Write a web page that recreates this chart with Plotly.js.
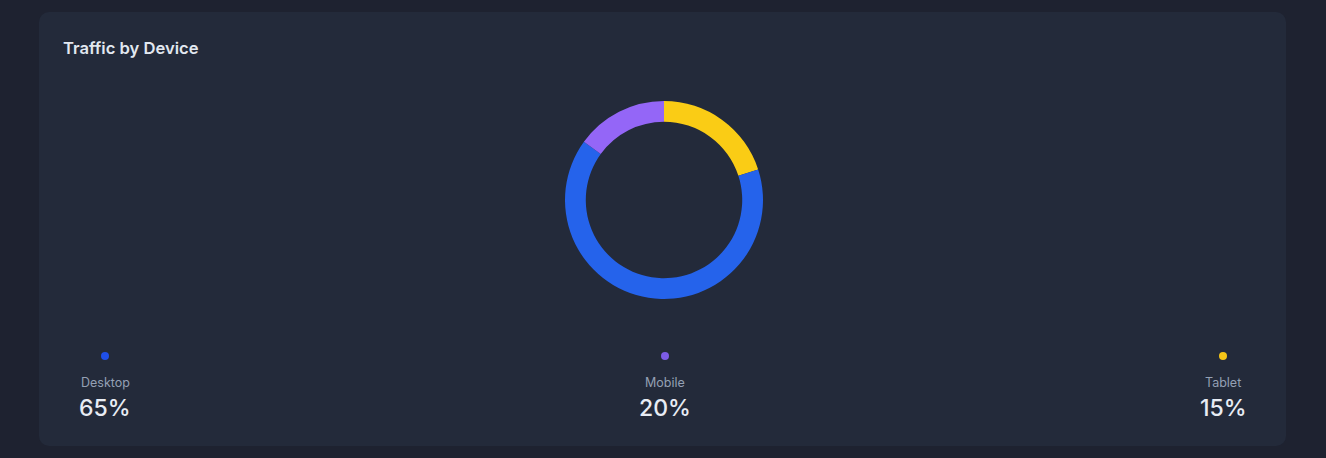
<!DOCTYPE html>
<html>
<head>
<meta charset="utf-8">
<script src="https://cdn.plot.ly/plotly-3.0.1.min.js"></script>
<style>
  html, body { margin: 0; padding: 0; background: #1e2230; }
  #card {
    position: absolute; left: 39px; top: 12px; width: 1247px; height: 434px;
    background: #232a3a; border-radius: 10px; overflow: hidden;
  }
  #donut { width: 1247px; height: 434px; }
</style>
</head>
<body>
<div id="card"><div id="donut"></div></div>
<script>
// legend entries, as labelled under the chart
var devices = ['Desktop', 'Mobile', 'Tablet'];
var shares = [65, 20, 15];
var dotColors = ['#1f4fe8', '#7d5ce6', '#f5c518'];

// ring as drawn, clockwise from 12 o'clock
var ringShares = [20, 65, 15];
var ringColors = ['#facc15', '#2563eb', '#9466f7'];

var legendX = [66, 626, 1184];   // column centres inside the card

var W = 1247, H = 434;
var cx = 625, cy = 188, r = 99;

var ring = {
  type: 'pie',
  values: ringShares,
  labels: ['a', 'b', 'c'],
  marker: { colors: ringColors, line: { width: 0 } },
  hole: 0.79,
  sort: false,
  direction: 'clockwise',
  rotation: 0,
  textinfo: 'none',
  hoverinfo: 'none',
  showlegend: false,
  domain: {
    x: [(cx - r) / W, (cx + r) / W],
    y: [1 - (cy + r) / H, 1 - (cy - r) / H]
  }
};

var dots = {
  type: 'scatter',
  mode: 'markers',
  x: legendX,
  y: legendX.map(function () { return 344; }),
  marker: { size: 8, color: dotColors },
  hoverinfo: 'none',
  showlegend: false
};

var notes = [];
devices.forEach(function (d, i) {
  notes.push({
    x: legendX[i], y: 370, xref: 'x', yref: 'y', text: d, showarrow: false,
    font: { family: 'Inter', size: 12.5, color: '#94a0b4' }
  });
  notes.push({
    x: legendX[i], y: 396, xref: 'x', yref: 'y', text: shares[i] + '%', showarrow: false,
    font: { family: 'Inter', size: 23, weight: 500, color: '#e8ecf4' }
  });
});
notes.push({
  x: 22, y: 36, xref: 'x', yref: 'y', xanchor: 'left', text: 'Traffic by Device',
  showarrow: false, font: { family: 'Inter', size: 16.6, weight: 600, color: '#e2e8f0' }
});

var layout = {
  width: W, height: H,
  margin: { l: 0, r: 0, t: 0, b: 0 },
  paper_bgcolor: 'rgba(0,0,0,0)',
  plot_bgcolor: 'rgba(0,0,0,0)',
  xaxis: { range: [0, W], visible: false, fixedrange: true },
  yaxis: { range: [H, 0], visible: false, fixedrange: true },
  annotations: notes
};

Plotly.newPlot('donut', [ring, dots], layout, { displayModeBar: false, staticPlot: true });
</script>
</body>
</html>
